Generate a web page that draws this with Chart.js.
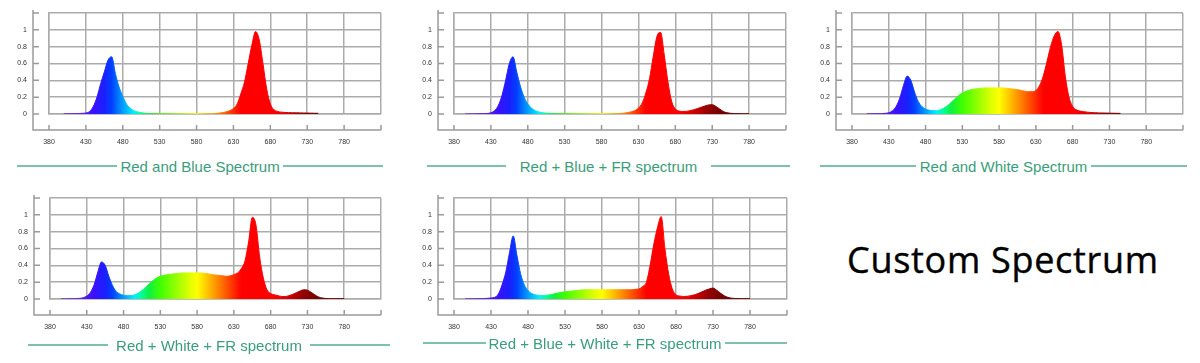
<!DOCTYPE html>
<html>
<head>
<meta charset="utf-8">
<script src="https://cdn.jsdelivr.net/npm/chart.js@4.4.1/dist/chart.umd.min.js"></script>
<style>
  html, body { margin: 0; padding: 0; background: #fff; }
  #page { position: relative; width: 1200px; height: 363px; overflow: hidden; }
  .box { position: absolute; }
  .title { position: absolute; display: flex; align-items: center; height: 20px;
           font-family: "Liberation Sans", Arial, sans-serif; font-size: 15px; color: #3a9d7b; }
  .title .rule { flex: 1; height: 1.5px; background: #7cc2aa; }
  #custom { position: absolute; left: 847px; top: 242px; line-height: 36px;
            font-family: "Open Sans", "Noto Sans", sans-serif; font-size: 36px; font-weight: 400;
            letter-spacing: 0.7px; color: #000; white-space: nowrap;
            -webkit-text-stroke: 0.4px #000; }
</style>
</head>
<body>
<div id="page">
  <div id="custom">Custom Spectrum</div>
</div>
<script>
// wavelength samples (nm)
const WAVELENGTHS = [
  395, 400, 405, 410, 415, 420, 425, 430, 435, 440,
  445, 450, 455, 460, 465, 470, 475, 480, 485, 490,
  495, 500, 505, 510, 515, 520, 525, 530, 535, 540,
  545, 550, 555, 560, 565, 570, 575, 580, 585, 590,
  595, 600, 605, 610, 615, 620, 625, 630, 635, 640,
  645, 650, 655, 660, 665, 670, 675, 680, 685, 690,
  695, 700, 705, 710, 715, 720, 725, 730, 735, 740,
  745, 750, 755, 760, 765, 770, 775, 780
];

const RED_BLUE = [
  null, .005, .005, .005, .005, .006, .008, .012, .03, .09,
  .2, .36, .5, .64, .68, .48, .32, .21, .12, .07,
  .04, .025, .015, .008, .005, .004, .003, .003, .003, .003,
  .003, .003, .003, .003, .003, .003, .003, .003, .003, .003,
  .003, .004, .006, .01, .016, .025, .04, .065, .12, .24,
  .38, .6, .82, .98, .88, .6, .3, .12, .05, .03,
  .022, .018, .016, .015, .014, .013, .012, .011, .01, .009,
  .008, null, null, null, null, null, null, null
];

const RED_BLUE_FR = [
  .003, .004, .004, .004, .005, .005, .006, .015, .04, .1,
  .22, .4, .6, .68, .5, .33, .2, .12, .07, .04,
  .025, .015, .01, .007, .005, .004, .003, .003, .003, .003,
  .003, .003, .003, .003, .003, .003, .003, .003, .003, .003,
  .003, .005, .007, .01, .016, .025, .04, .07, .13, .25,
  .42, .68, .92, .97, .7, .38, .15, .06, .035, .03,
  .032, .04, .05, .065, .08, .095, .108, .11, .09, .06,
  .03, .015, .008, .005, .004, .003, .003, .003
];

const RED_WHITE = [
  null, .004, .005, .005, .005, .005, .008, .015, .04, .09,
  .19, .34, .45, .4, .26, .15, .09, .06, .045, .04,
  .04, .05, .07, .1, .14, .18, .22, .25, .27, .285,
  .295, .3, .305, .31, .31, .31, .31, .31, .31, .305,
  .3, .295, .29, .28, .27, .265, .265, .28, .34, .45,
  .62, .8, .93, .98, .82, .45, .2, .09, .05, .035,
  .028, .022, .018, .015, .013, .012, .011, .01, .009, .008,
  .007, null, null, null, null, null, null, null
];

const RED_WHITE_FR = [
  .004, .005, .005, .005, .005, .008, .015, .035, .08, .17,
  .32, .44, .4, .27, .16, .09, .06, .045, .04, .04,
  .05, .07, .1, .14, .18, .22, .25, .27, .28, .29,
  .295, .3, .305, .31, .31, .31, .31, .31, .31, .305,
  .3, .29, .285, .28, .275, .27, .275, .29, .31, .36,
  .45, .68, .97, .88, .5, .25, .11, .065, .05, .04,
  .03, .03, .04, .055, .075, .095, .11, .105, .08, .05,
  .025, .012, .006, .004, .004, .004, .004, .004
];

const RED_BLUE_WHITE_FR = [
  .004, .005, .005, .005, .005, .005, .008, .012, .02, .06,
  .17, .32, .55, .75, .52, .3, .17, .1, .065, .05,
  .042, .04, .045, .05, .06, .07, .08, .085, .09, .095,
  .1, .105, .11, .11, .11, .11, .11, .11, .11, .11,
  .11, .11, .11, .11, .11, .11, .115, .12, .15, .2,
  .4, .65, .85, .98, .6, .3, .12, .05, .035, .03,
  .032, .04, .05, .065, .085, .105, .12, .13, .105, .07,
  .04, .02, .01, .006, .004, .004, .004, .004
];

const X_MIN = 380, X_MAX = 830;

// colour of light along the x axis (nm, colour)
const SPECTRUM_STOPS = [
  [380, "#9070c0"], [420, "#6020e0"], [440, "#3a10ff"], [455, "#1a20ff"],
  [465, "#0040ff"], [475, "#0080ff"], [485, "#00b8ff"], [495, "#00f0ff"],
  [505, "#00ff90"], [515, "#10f040"], [530, "#40ff00"], [550, "#90ff00"],
  [570, "#e0ff00"], [580, "#ffff00"], [595, "#ffc000"], [610, "#ff8000"],
  [625, "#ff4000"], [640, "#ff0000"], [685, "#ff0000"], [705, "#d00000"],
  [725, "#900000"], [745, "#700000"], [830, "#600000"]
];

const PANELS = [
  { title: "Red and Blue Spectrum",            values: RED_BLUE,          area: [49, 13, 332, 101],  rule: [17, 156, 383],  gap: 3 },
  { title: "Red + Blue + FR spectrum",         values: RED_BLUE_FR,       area: [454, 13, 332, 101], rule: [427, 156, 790], gap: 14 },
  { title: "Red and White Spectrum",           values: RED_WHITE,         area: [852, 13, 331, 101], rule: [820, 156, 1187], gap: 4 },
  { title: "Red + White + FR spectrum",        values: RED_WHITE_FR,      area: [50, 198, 331, 101], rule: [28, 335, 390],  gap: 8 },
  { title: "Red + Blue + White + FR spectrum", values: RED_BLUE_WHITE_FR, area: [454, 198, 333, 101], rule: [423, 333, 787], gap: 3 }
];

function spectrumFill(context) {
  const chart = context.chart;
  const x = chart.scales.x;
  if (!chart.chartArea || !x) return "rgba(0,0,0,0)";
  const x0 = x.getPixelForValue(X_MIN), x1 = x.getPixelForValue(X_MAX);
  const g = chart.ctx.createLinearGradient(x0, 0, x1, 0);
  SPECTRUM_STOPS.forEach(s => g.addColorStop((s[0] - X_MIN) / (X_MAX - X_MIN), s[1]));
  return g;
}

// L-shaped axis drawn a little outside the grid box
const outerAxes = {
  id: "outerAxes",
  afterDraw(chart) {
    const ctx = chart.ctx, a = chart.chartArea;
    const x = chart.scales.x, y = chart.scales.y;
    const ax = a.left - 16, ay = a.bottom + 16;
    ctx.save();
    ctx.strokeStyle = "#9a9a9a";
    ctx.lineWidth = 1.5;
    ctx.beginPath();
    ctx.moveTo(ax, a.top - 3);
    ctx.lineTo(ax, ay);
    ctx.lineTo(a.right, ay);
    y.ticks.forEach(t => {
      const py = y.getPixelForValue(t.value);
      ctx.moveTo(ax, py); ctx.lineTo(ax + 6, py);
    });
    x.ticks.forEach(t => {
      const px = x.getPixelForValue(t.value);
      ctx.moveTo(px, ay); ctx.lineTo(px, ay - 5);
    });
    ctx.stroke();
    ctx.restore();
  }
};

const page = document.getElementById("page");

PANELS.forEach(p => {
  const [left, top, w, h] = p.area;
  const box = document.createElement("div");
  box.className = "box";
  box.style.left = (left - 45) + "px";
  box.style.top = (top - 13) + "px";
  box.style.width = (w + 60) + "px";
  box.style.height = (h + 53) + "px";
  const canvas = document.createElement("canvas");
  box.appendChild(canvas);
  page.appendChild(box);

  const title = document.createElement("div");
  title.className = "title";
  title.style.left = p.rule[0] + "px";
  title.style.top = p.rule[1] + "px";
  title.style.width = (p.rule[2] - p.rule[0]) + "px";
  title.innerHTML = '<span class="rule"></span><span style="margin:0 ' + p.gap + 'px">' +
    p.title + '</span><span class="rule"></span>';
  page.appendChild(title);

  new Chart(canvas, {
    type: "line",
    data: {
      datasets: [{
        data: WAVELENGTHS.map((nm, i) => ({ x: nm, y: p.values[i] })),
        fill: "origin",
        backgroundColor: spectrumFill,
        borderColor: spectrumFill,
        borderWidth: 1,
        pointRadius: 0,
        cubicInterpolationMode: "monotone",
        spanGaps: false
      }]
    },
    options: {
      responsive: true,
      maintainAspectRatio: false,
      animation: false,
      layout: { padding: { left: 5, top: 13, right: 15, bottom: 0 } },
      plugins: { legend: { display: false }, tooltip: { enabled: false } },
      scales: {
        x: {
          type: "linear",
          min: X_MIN,
          max: X_MAX,
          afterFit: s => { s.height = 40; s.paddingLeft = 0; s.paddingRight = 0; },
          grid: { color: "#ababab", lineWidth: 1.5, drawTicks: false },
          border: { color: "#ababab", width: 1.5 },
          ticks: {
            stepSize: 50, autoSkip: false, maxRotation: 0, padding: 24,
            color: "#333", font: { family: "Liberation Sans", size: 7 },
            callback: v => (v >= X_MAX ? "" : v)
          }
        },
        y: {
          min: 0,
          max: 1.2,
          afterFit: s => { s.width = 40; s.paddingTop = 0; s.paddingBottom = 0; },
          grid: { color: "#ababab", lineWidth: 1.5, drawTicks: false },
          border: { color: "#ababab", width: 1.5 },
          ticks: {
            stepSize: 0.2, padding: 22,
            color: "#333", font: { family: "Liberation Sans", size: 7 },
            callback: v => (v > 1.1 ? "" : Math.round(v * 10) / 10)
          }
        }
      }
    },
    plugins: [outerAxes]
  });
});
</script>
</body>
</html>
